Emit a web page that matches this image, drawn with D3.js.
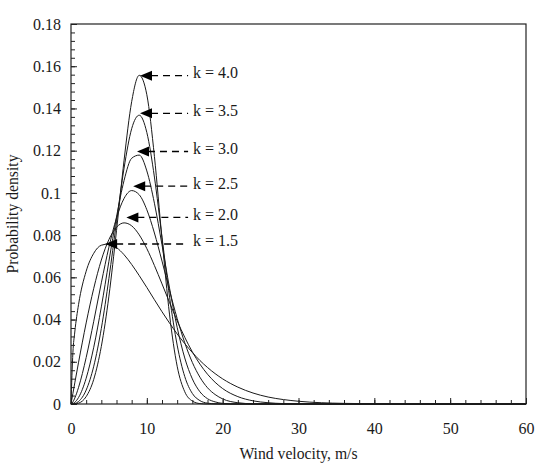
<!DOCTYPE html>
<html>
<head>
<meta charset="utf-8">
<script src="https://cdn.jsdelivr.net/npm/d3@7"></script>
<style>
  body { margin: 0; background: #fff; }
  text { font-family: "Liberation Serif", "Times New Roman", serif; fill: #1a1a1a; }
</style>
</head>
<body>
<div id="graph"></div>
<script>
// wind velocity (m/s) at which the curves were read
const velocity = [0, 0.25, 0.5, 1, 2, 3, 4, 5, 6, 7, 8, 9, 10, 11, 12, 13, 14, 15, 16, 17, 18, 19, 20,
    22, 24, 26, 28, 30, 33, 36, 40, 50, 60];

// probability density for each shape factor k
const k15 = [0, 0.0243, 0.0341, 0.0472, 0.0629, 0.0714, 0.0752, 0.0758, 0.0741, 0.0707, 0.0661, 0.0608, 0.0552,
    0.0494, 0.0437, 0.0383, 0.0332, 0.0286, 0.0244, 0.0206, 0.0173, 0.0144, 0.0119,
    0.0080, 0.0052, 0.0033, 0.0021, 0.0013, 0.0006, 0.0003, 0.0001, 0, 0];
const k20 = [0, 0.0050, 0.0100, 0.0198, 0.0384, 0.0548, 0.0682, 0.0779, 0.0837, 0.0858, 0.0844, 0.0801, 0.0736,
    0.0656, 0.0569, 0.0480, 0.0394, 0.0316, 0.0247, 0.0189, 0.0141, 0.0103, 0.0073,
    0.0035, 0.0015, 0.0006, 0.0002, 0.0001, 0, 0, 0, 0, 0];
const k25 = [0, 0.0010, 0.0028, 0.0079, 0.0220, 0.0392, 0.0574, 0.0743, 0.0881, 0.0974, 0.1011, 0.0991, 0.0920,
    0.0810, 0.0677, 0.0537, 0.0405, 0.0290, 0.0197, 0.0127, 0.0077, 0.0045, 0.0024,
    0.0006, 0.0001, 0, 0, 0, 0, 0, 0, 0, 0];
const k30 = [0, 0.0002, 0.0008, 0.0031, 0.0122, 0.0269, 0.0460, 0.0676, 0.0886, 0.1059, 0.1164, 0.1179, 0.1104,
    0.0951, 0.0754, 0.0548, 0.0363, 0.0218, 0.0119, 0.0058, 0.0025, 0.0010, 0.0003,
    0, 0, 0, 0, 0, 0, 0, 0, 0, 0];
const k35 = [0, 0, 0.0002, 0.0012, 0.0066, 0.0179, 0.0358, 0.0595, 0.0863, 0.1118, 0.1304, 0.1368, 0.1286,
    0.1075, 0.0790, 0.0506, 0.0279, 0.0130, 0.0050, 0.0016, 0.0004, 0.0001, 0,
    0, 0, 0, 0, 0, 0, 0, 0, 0, 0];
const k40 = [0, 0, 0.0001, 0.0004, 0.0035, 0.0117, 0.0273, 0.0511, 0.0821, 0.1155, 0.1432, 0.1557, 0.1465,
    0.1173, 0.0781, 0.0422, 0.0179, 0.0058, 0.0014, 0.0002, 0, 0, 0,
    0, 0, 0, 0, 0, 0, 0, 0, 0, 0];

// annotations: label and the peak the arrow points at
const labels = ["k = 1.5", "k = 2.0", "k = 2.5", "k = 3.0", "k = 3.5", "k = 4.0"];
const peakV = [4.5, 7.3, 8.2, 8.7, 9.1, 9.1];
const peakD = [0.0758, 0.0884, 0.1032, 0.1196, 0.1377, 0.1555];
const labelV = 16.1;

const xTicks = [0, 10, 20, 30, 40, 50, 60];
const yTicks = [0, 0.02, 0.04, 0.06, 0.08, 0.1, 0.12, 0.14, 0.16, 0.18];

const series = [k15, k20, k25, k30, k35, k40];

const margin = {top: 24, right: 24, bottom: 71, left: 71};
const width = 550 - margin.left - margin.right;
const height = 475 - margin.top - margin.bottom;

const svg = d3.select("#graph")
    .append("svg")
        .attr("width", 550)
        .attr("height", 475)
    .append("g")
        .attr("transform", `translate(${margin.left}, ${margin.top})`);

const x = d3.scaleLinear().domain([0, 60]).range([0, width]);
const y = d3.scaleLinear().domain([0, 0.18]).range([height, 0]);

// minor ticks first, then the labelled ones
svg.append("g")
    .attr("transform", `translate(0, ${height})`)
    .call(d3.axisBottom(x).tickValues(d3.range(0, 61, 2)).tickSize(-4).tickFormat(""));
svg.append("g")
    .call(d3.axisLeft(y).tickValues(d3.range(0, 0.1801, 0.004)).tickSize(-4).tickFormat(""));

svg.append("g")
    .attr("transform", `translate(0, ${height})`)
    .call(d3.axisBottom(x).tickValues(xTicks).tickSize(-6).tickPadding(19));
svg.append("g")
    .call(d3.axisLeft(y).tickValues(yTicks).tickSize(-6).tickPadding(10)
        .tickFormat(d => String(+d.toFixed(2))));

svg.selectAll(".domain").remove();
svg.selectAll(".tick line").attr("stroke", "#222");
svg.selectAll(".tick text").attr("font-size", 16).attr("font-family", "Liberation Serif").attr("fill", "#1a1a1a");

svg.append("rect")
    .attr("width", width)
    .attr("height", height)
    .attr("fill", "none")
    .attr("stroke", "#222")
    .attr("stroke-width", 1.2);

const line = d3.line()
    .x((d, i) => x(velocity[i]))
    .y(d => y(d))
    .curve(d3.curveMonotoneX);

svg.selectAll("path.curve")
    .data(series)
    .enter().append("path")
        .attr("class", "curve")
        .attr("d", line)
        .attr("fill", "none")
        .attr("stroke", "#1a1a1a")
        .attr("stroke-width", 1);

// dashed arrows from the labels to the peaks
const notes = svg.selectAll("g.note")
    .data(labels)
    .enter().append("g")
        .attr("class", "note");

notes.append("line")
    .attr("x1", (d, i) => x(peakV[i]) + 11)
    .attr("x2", x(labelV) - 5)
    .attr("y1", (d, i) => y(peakD[i]))
    .attr("y2", (d, i) => y(peakD[i]))
    .attr("stroke", "#000")
    .attr("stroke-width", 1.3)
    .attr("stroke-dasharray", "7,5");

notes.append("path")
    .attr("d", (d, i) => {
        const px = x(peakV[i]), py = y(peakD[i]);
        return `M${px},${py} L${px + 12},${py - 5} L${px + 12},${py + 5} Z`;
    })
    .attr("fill", "#000");

notes.append("text")
    .attr("x", x(labelV))
    .attr("y", (d, i) => y(peakD[i]))
    .attr("dy", "0.15em")
    .attr("font-size", 16)
    .text(d => d);

svg.append("text")
    .attr("x", width / 2)
    .attr("y", height + 55)
    .attr("text-anchor", "middle")
    .attr("font-size", 15.7)
    .text("Wind velocity, m/s");

svg.append("text")
    .attr("transform", `translate(${-53}, ${height / 2}) rotate(-90)`)
    .attr("text-anchor", "middle")
    .attr("font-size", 15.7)
    .text("Probability density");
</script>
</body>
</html>
